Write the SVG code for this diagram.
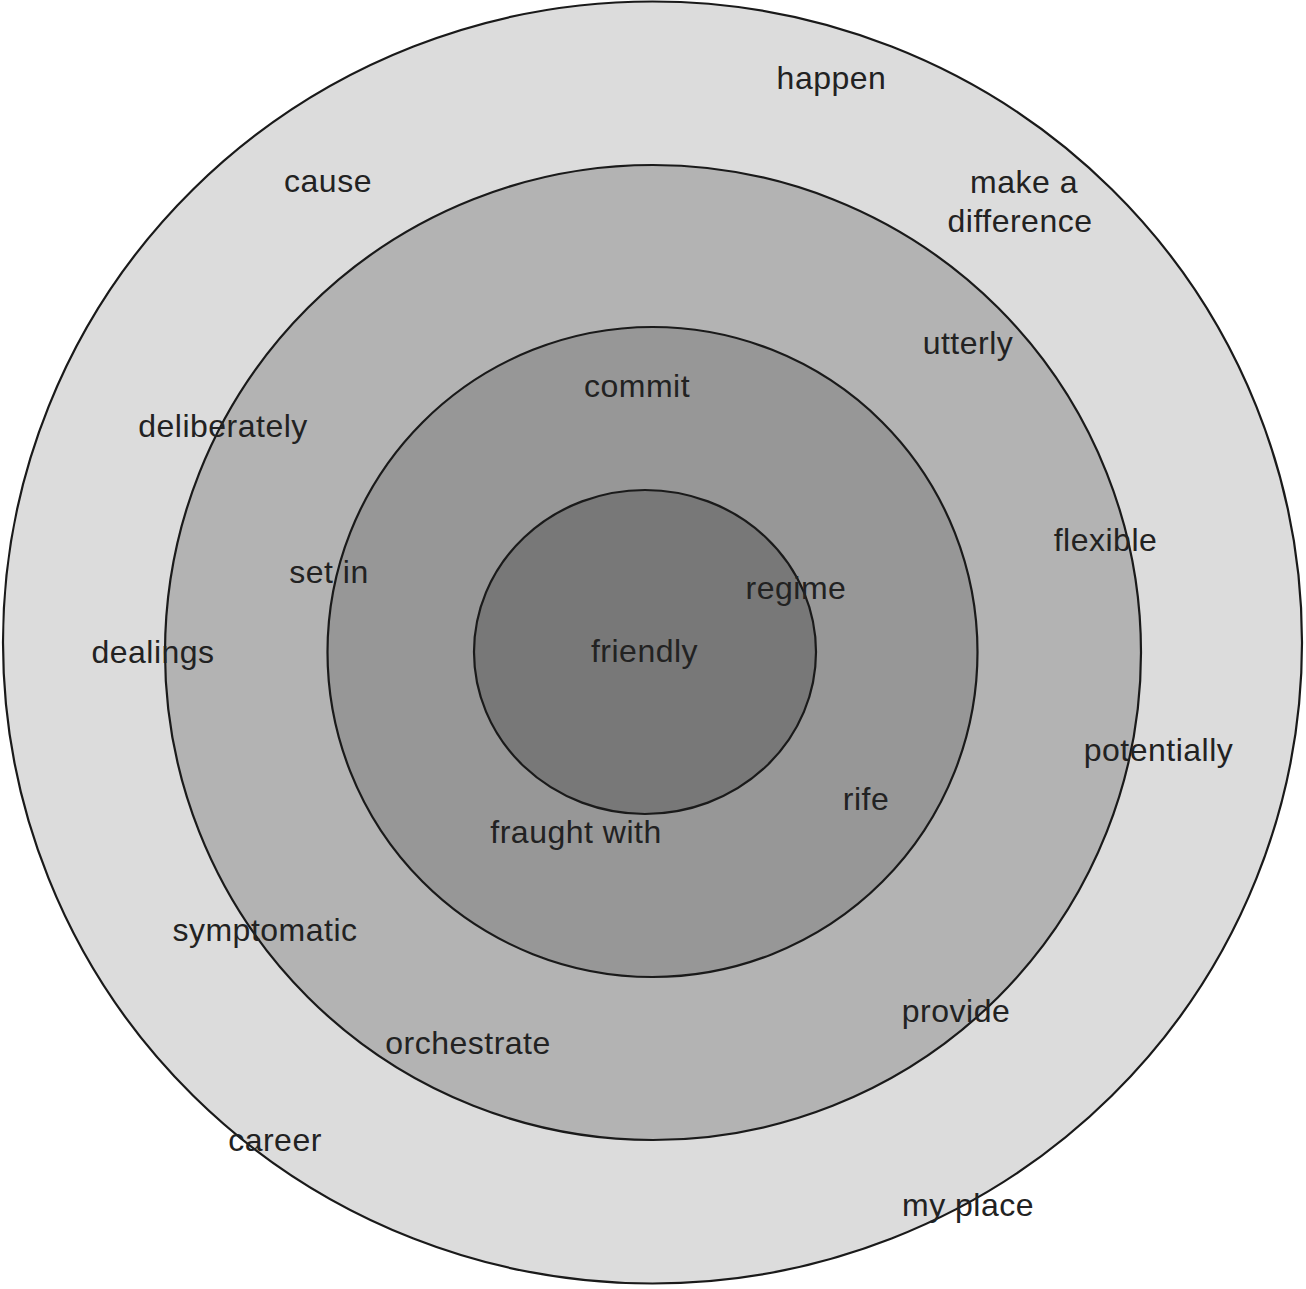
<svg xmlns="http://www.w3.org/2000/svg" width="1306" height="1289" viewBox="0 0 1306 1289">
<style>
.ring{stroke:#1a1a1a;stroke-width:2.2}
text{font-family:"Liberation Sans",Arial,sans-serif;font-size:32px;letter-spacing:0.5px;fill:#222;text-anchor:middle}
</style>
<rect width="1306" height="1289" fill="#fff"/>
<g id="ring1"><ellipse class="ring" cx="652.5" cy="642.5" rx="649.5" ry="641" fill="#dcdcdc"/></g>
<g id="ring2"><ellipse class="ring" cx="653" cy="652.5" rx="488" ry="487.5" fill="#b3b3b3"/></g>
<g id="ring3"><ellipse class="ring" cx="652.5" cy="652" rx="325" ry="325" fill="#979797"/></g>
<g id="ring4"><ellipse class="ring" cx="645" cy="652" rx="171" ry="162" fill="#787878"/></g>
<g id="connectors"></g>
<g id="labels">
<text x="831.5" y="89">happen</text>
<text x="328" y="192">cause</text>
<text x="1024" y="193">make a</text>
<text x="1020" y="232">difference</text>
<text x="968" y="354">utterly</text>
<text x="637" y="397">commit</text>
<text x="223" y="437">deliberately</text>
<text x="1105.5" y="551">flexible</text>
<text x="329" y="583">set in</text>
<text x="796" y="599">regime</text>
<text x="153" y="663">dealings</text>
<text x="644.5" y="662">friendly</text>
<text x="1158.5" y="761">potentially</text>
<text x="866" y="810">rife</text>
<text x="576" y="843">fraught with</text>
<text x="265" y="941">symptomatic</text>
<text x="956" y="1022">provide</text>
<text x="468" y="1054">orchestrate</text>
<text x="275" y="1151">career</text>
<text x="968" y="1216">my place</text>
</g>
</svg>
